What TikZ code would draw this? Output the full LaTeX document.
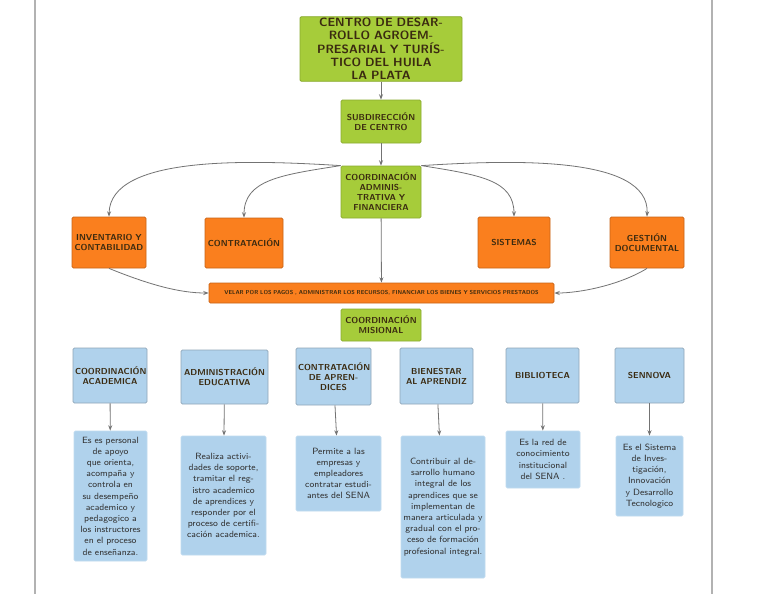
\documentclass[tikz,border=0pt]{standalone}
\usepackage{fontspec}
\setmainfont{Liberation Sans}
\usetikzlibrary{arrows.meta}
\definecolor{gr}{HTML}{A6CC3A}
\definecolor{grb}{HTML}{8AAA30}
\definecolor{or}{HTML}{FA7F1E}
\definecolor{orb}{HTML}{C86418}
\definecolor{bl}{HTML}{B0D2EC}
\definecolor{blb}{HTML}{8FA6B8}
\definecolor{tx}{HTML}{3A2A10}
\begin{document}
\begin{tikzpicture}[x=0.75pt,y=-0.75pt,
 box/.style={draw,line width=0.6pt,rounded corners=1pt,inner sep=1pt,align=center,font=\bfseries\sffamily,text=tx},
 g/.style={box,fill=gr,draw=grb},
 o/.style={box,fill=or,draw=orb},
 b/.style={box,fill=bl,draw=blb},
 d/.style={box,fill=bl,draw=bl!80!white,font=\sffamily,text=black!80},
 con/.style={draw=black!55,line width=0.6pt,-{Stealth[length=4pt,width=3pt]}}]
\useasboundingbox (0,0) rectangle (768,594);
\fill[white] (0,0) rectangle (768,594);
\draw[black!30,line width=1pt] (35,0) -- (35,594) (712,0) -- (712,594);
\def\bx#1#2#3#4#5#6#7{\node[#2,minimum width=#5-#3 pt*0.75/0.75,anchor=north west] at (#3,#4) {};}
% boxes via explicit size
\newcommand{\mybox}[7]{\node[#2,minimum width={(#5-#3)*0.75pt},minimum height={(#6-#4)*0.75pt},text width={(#5-#3)*0.75pt-3pt},anchor=center] (#1) at ({(#3+#5)/2},{(#4+#6)/2}) {#7};}
\mybox{t}{g,font=\bfseries\sffamily\fontsize{9}{10}\selectfont}{300}{18}{462}{80}{CENTRO DE DESARROLLO AGROEMPRESARIAL Y TURÍSTICO DEL HUILA\\LA PLATA}
\mybox{s}{g,font=\bfseries\sffamily\fontsize{6.5}{7.5}\selectfont}{341}{100}{421}{143}{SUBDIRECCIÓN DE CENTRO}
\mybox{ca}{g,font=\bfseries\sffamily\fontsize{6.5}{7.5}\selectfont}{341}{166}{421}{218}{COORDINACIÓN ADMINISTRATIVA Y FINANCIERA}
\mybox{inv}{o,font=\bfseries\sffamily\fontsize{6.5}{7.5}\selectfont}{72}{217}{146}{268}{INVENTARIO Y CONTABILIDAD}
\mybox{con}{o,font=\bfseries\sffamily\fontsize{6.5}{7.5}\selectfont}{205}{218}{283}{268}{CONTRATACIÓN}
\mybox{sis}{o,font=\bfseries\sffamily\fontsize{6.5}{7.5}\selectfont}{478}{217}{550}{268}{SISTEMAS}
\mybox{ges}{o,font=\bfseries\sffamily\fontsize{6.5}{7.5}\selectfont}{610}{217}{684}{268}{GESTIÓN DOCUMENTAL}
\mybox{v}{o,font=\bfseries\sffamily\fontsize{4.3}{5}\selectfont}{209}{283}{554}{303}{VELAR POR LOS PAGOS , ADMINISTRAR LOS RECURSOS, FINANCIAR LOS BIENES Y SERVICIOS PRESTADOS}
\mybox{cm}{g,font=\bfseries\sffamily\fontsize{6.5}{7.5}\selectfont}{341}{309}{421}{341}{COORDINACIÓN MISIONAL}
\tikzset{bf/.style={b,font=\bfseries\sffamily\fontsize{6.5}{7.5}\selectfont},df/.style={d,font=\sffamily\fontsize{6.8}{8.4}\selectfont}}
\mybox{b1}{bf}{73}{348}{147}{403}{COORDINACIÓN ACADEMICA}
\mybox{b2}{bf}{181}{350}{268}{404}{ADMINISTRACIÓN EDUCATIVA}
\mybox{b3}{bf}{296}{348}{371}{405}{CONTRATACIÓN DE APRENDICES}
\mybox{b4}{bf}{400}{348}{473}{404}{BIENESTAR AL APRENDIZ}
\mybox{b5}{bf}{506}{348}{579}{403}{BIBLIOTECA}
\mybox{b6}{bf}{615}{348}{684}{403}{SENNOVA}
\mybox{d1}{df}{74}{431}{147}{561}{Es es personal de apoyo que orienta, acompaña y controla en su desempeño academico y pedagogico a los instructores en el proceso de enseñanza.}
\mybox{d2}{df}{181}{436}{266}{555}{Realiza actividades de soporte, tramitar el registro academico de aprendices y responder por el proceso de certificación academica.}
\mybox{d3}{df}{296}{436}{381}{511}{Permite a las empresas y empleadores contratar estudiantes del SENA}
\mybox{d4}{df}{401}{436}{485}{578}{Contribuir al desarrollo humano integral de los aprendices que se implementan de manera articulada y gradual con el proceso de formación profesional integral.}
\mybox{d5}{df}{506}{431}{580}{488}{Es la red de conocimiento institucional del SENA .}
\mybox{d6}{df}{616}{436}{683}{516}{Es el Sistema de Investigación, Innovación y Desarrollo Tecnologico}
\draw[con] (t) -- (s);
\draw[con] (s) -- (ca);
\draw[con] (ca) -- (v);
\draw[con] (ca.north west) .. controls (250,160) and (110,155) .. (inv.north);
\draw[con] (ca.north west) .. controls (280,175) and (244,180) .. (con.north);
\draw[con] (ca.north east) .. controls (480,175) and (514,180) .. (sis.north);
\draw[con] (ca.north east) .. controls (510,160) and (650,155) .. (ges.north);
\draw[con] (inv.south) .. controls (150,285) and (180,293) .. (v.west);
\draw[con] (ges.south) .. controls (620,285) and (580,293) .. (v.east);
\foreach \i in {1,...,6}{\draw[con] (b\i) -- (d\i);}
\end{tikzpicture}
\end{document}
